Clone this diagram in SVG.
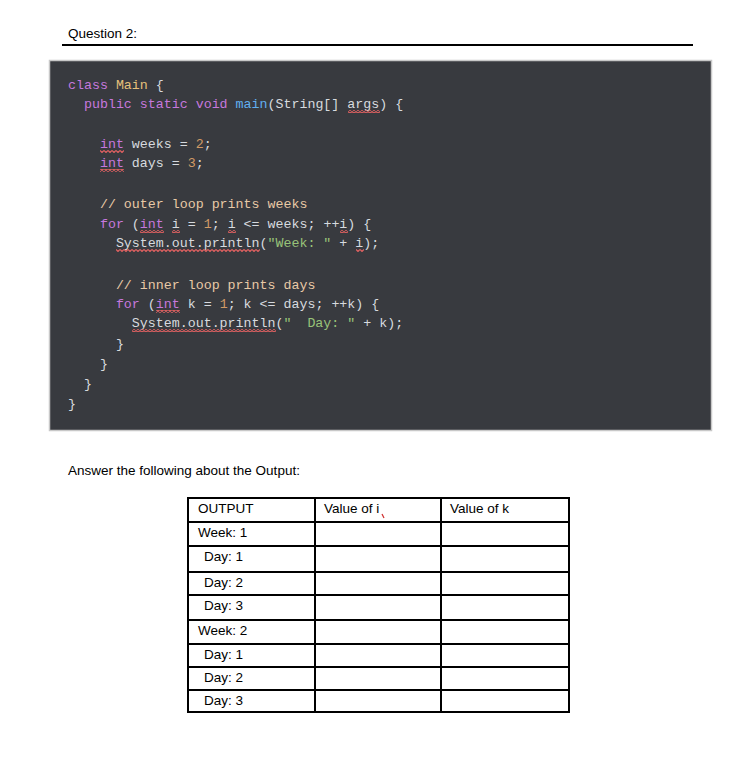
<svg xmlns="http://www.w3.org/2000/svg" width="744" height="766" viewBox="0 0 744 766">
<style>
.t{font-family:"Liberation Sans",Arial,sans-serif;font-size:13.5px;fill:#000}
.c{font-family:"Liberation Mono","DejaVu Sans Mono",monospace;font-size:13.3px;fill:#d7dadf;white-space:pre}
.k{fill:#c678dd}.y{fill:#e5c07b}.b{fill:#61afef}.n{fill:#d19a66}.s{fill:#98c379}.m{fill:#e8c9a6}
.g{stroke:#000;stroke-width:2;fill:none}
</style>
<defs>
<pattern id="w" width="4" height="3" patternUnits="userSpaceOnUse"><path d="M0 0.5 L2 2.5 L4 0.5" stroke="#e06060" stroke-width="1.2" fill="none"/></pattern>
</defs>
<rect width="744" height="766" fill="#fff"/>
<g id="heading">
<text class="t" x="68" y="38">Question 2:</text>
<line x1="62" y1="45" x2="693" y2="45" stroke="#000" stroke-width="2"/>
</g>
<g id="code">
<rect x="49.5" y="60.5" width="662" height="370" fill="#383a3f" stroke="#c8c8c8" stroke-width="1.5"/>
<text class="c" x="68" y="89"><tspan class="k">class</tspan> <tspan class="y">Main</tspan> {</text>
<text class="c" x="68" y="108">  <tspan class="k">public static void</tspan> <tspan class="b">main</tspan>(String[] args) {</text>
<text class="c" x="68" y="148">    <tspan class="k">int</tspan> weeks = <tspan class="n">2</tspan>;</text>
<text class="c" x="68" y="167">    <tspan class="k">int</tspan> days = <tspan class="n">3</tspan>;</text>
<text class="c m" x="68" y="208">    // outer loop prints weeks</text>
<text class="c" x="68" y="228">    <tspan class="k">for</tspan> (<tspan class="k">int</tspan> i = <tspan class="n">1</tspan>; i &lt;= weeks; ++i) {</text>
<text class="c" x="68" y="247">      System.out.println(<tspan class="s">"Week: "</tspan> + i);</text>
<text class="c m" x="68" y="289">      // inner loop prints days</text>
<text class="c" x="68" y="308">      <tspan class="k">for</tspan> (<tspan class="k">int</tspan> k = <tspan class="n">1</tspan>; k &lt;= days; ++k) {</text>
<text class="c" x="68" y="327">        System.out.println(<tspan class="s">"  Day: "</tspan> + k);</text>
<text class="c" x="68" y="348">      }</text>
<text class="c" x="68" y="368">    }</text>
<text class="c" x="68" y="388">  }</text>
<text class="c" x="68" y="408">}</text>
<g fill="url(#w)">
<rect x="348" y="110" width="32" height="3"/>
<rect x="100" y="150" width="24" height="3"/>
<rect x="100" y="169" width="24" height="3"/>
<rect x="140" y="230" width="24" height="3"/>
<rect x="172" y="230" width="8" height="3"/>
<rect x="228" y="230" width="8" height="3"/>
<rect x="340" y="230" width="8" height="3"/>
<rect x="116" y="249" width="144" height="3"/>
<rect x="356" y="249" width="8" height="3"/>
<rect x="156" y="310" width="24" height="3"/>
<rect x="132" y="329" width="144" height="3"/>
</g>
</g>
<g id="prompt"><text class="t" x="68" y="475">Answer the following about the Output:</text></g>
<g id="table">
<rect class="g" x="188" y="498" width="381" height="214"/>
<path class="g" d="M315 498V712M441 498V712M188 522H569M188 546H569M188 572H569M188 595H569M188 620H569M188 644H569M188 667H569M188 690H569"/>
<text class="t" x="198" y="513">OUTPUT</text>
<text class="t" x="324" y="513">Value of i</text>
<path d="M382 514 l2 4" stroke="#d03030" stroke-width="1.3"/>
<text class="t" x="450" y="513">Value of k</text>
<text class="t" x="198" y="537">Week: 1</text>
<text class="t" x="204" y="561">Day: 1</text>
<text class="t" x="204" y="587">Day: 2</text>
<text class="t" x="204" y="610">Day: 3</text>
<text class="t" x="198" y="635">Week: 2</text>
<text class="t" x="204" y="659">Day: 1</text>
<text class="t" x="204" y="682">Day: 2</text>
<text class="t" x="204" y="705">Day: 3</text>
</g>
</svg>
